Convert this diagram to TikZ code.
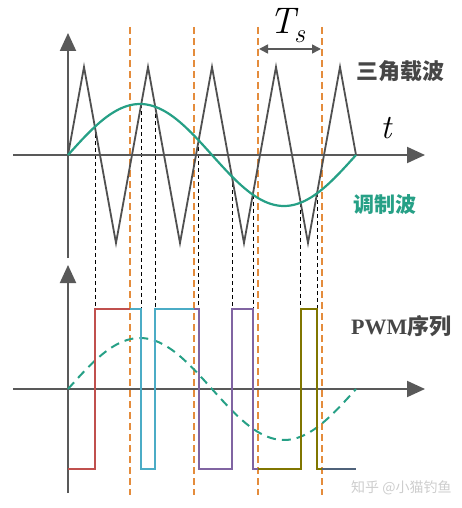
\documentclass[tikz,border=0pt]{standalone}
\usepackage{fontspec}
\newfontfamily\cjk{Noto Sans CJK SC}
\newfontfamily\pwmserif{Liberation Serif}
\usetikzlibrary{arrows.meta}
\definecolor{axisgray}{RGB}{89,89,89}
\definecolor{wavegray}{RGB}{80,80,80}
\definecolor{lblgray}{RGB}{70,70,70}
\definecolor{teal}{RGB}{38,160,134}
\definecolor{orng}{RGB}{228,140,60}
\definecolor{pwmred}{RGB}{192,80,77}
\definecolor{pwmcyan}{RGB}{75,172,198}
\definecolor{pwmpurple}{RGB}{128,100,162}
\definecolor{pwmolive}{RGB}{128,118,0}
\definecolor{pwmblue}{RGB}{79,98,122}
\definecolor{wm}{RGB}{205,205,205}
\tikzset{
  axis/.style={draw=axisgray, line width=2pt, -{Triangle[length=18pt,width=16pt]}},
  carrier/.style={draw=wavegray, line width=1.8pt, line join=miter},
  modwave/.style={draw=teal, line width=2.2pt},
  period/.style={draw=orng, line width=1.3pt, dash pattern=on 7pt off 4pt},
  proj/.style={draw=black, line width=0.6pt, dash pattern=on 4pt off 3pt},
  pwm/.style={line width=1.8pt, line join=miter},
  lbl/.style={inner sep=0pt, anchor=center}
}
\begin{document}
\begin{tikzpicture}[x=1pt,y=-1pt]
\useasboundingbox (0,0) rectangle (461,508);
% period lines
\foreach \px in {130,194,258,322} {
  \draw[period] (\px,27) -- (\px,495);
}
% projection lines from intersections
\foreach \ix in {94.9,141.3,155.2,198.7,231.9,252.8,300.7,317.0} {
  \draw[proj] (\ix,{155-51*sin((\ix-68)*1.25)}) -- (\ix,309);
}
% top axes
\coordinate (topbot) at (68,258);
\coordinate (toptop) at (68,33);
\coordinate (topleft) at (13,155);
\coordinate (topright) at (425,155);
\draw[axis] (topbot) -- (toptop);
\draw[axis] (topleft) -- (topright);
% carrier triangle
\draw[carrier] (68,155) -- (84,67) -- (116,243) -- (148,67) -- (180,243) -- (212,67)
  -- (244,243) -- (276,67) -- (308,243) -- (340,67) -- (356,155);
% modulating sine
\draw[modwave] plot[domain=0:288, samples=120, smooth] ({68+\x},{155-51*sin(\x*1.25)});
% bottom axes
\coordinate (botbot) at (68,493);
\coordinate (bottop) at (68,265);
\coordinate (botleft) at (13,389);
\coordinate (botright) at (425,389);
\draw[axis] (botbot) -- (bottop);
\draw[axis] (botleft) -- (botright);
% dashed sine in bottom
\draw[draw=teal, line width=2pt, dash pattern=on 9pt off 6pt]
  plot[domain=0:288, samples=120, smooth] ({68+\x},{389-51*sin(\x*1.25)});
% PWM
\draw[pwm, draw=pwmred] (68,469) -- (94.9,469) -- (94.9,309) -- (130,309);
\draw[pwm, draw=pwmcyan] (130,309) -- (141.3,309) -- (141.3,469) -- (155.2,469) -- (155.2,309) -- (194,309);
\draw[pwm, draw=pwmpurple] (194,309) -- (198.7,309) -- (198.7,469) -- (231.9,469) -- (231.9,309) -- (252.8,309) -- (252.8,469) -- (258,469);
\draw[pwm, draw=pwmolive] (258,469) -- (300.7,469) -- (300.7,309) -- (317,309) -- (317,469) -- (322,469);
\draw[pwm, draw=pwmblue] (322,469) -- (356,469);
% Ts arrow
\coordinate (tsl) at (259,49);
\coordinate (tsr) at (321,49);
\draw[draw=axisgray, line width=1.6pt, {Triangle[length=9pt,width=9pt]}-{Triangle[length=9pt,width=9pt]}] (tsl) -- (tsr);
% labels
\node[lbl] (ts) at (287,26) {\fontsize{37}{37}\selectfont\itshape T\kern-1pt\raisebox{-9pt}{\fontsize{27}{27}\selectfont s}};
\node[lbl] (tlabel) at (386,128) {\fontsize{34}{34}\selectfont\itshape t};
\node[lbl, text=lblgray, anchor=west] (carrierlbl) at (356,71) {\cjk\bfseries\fontsize{22}{22}\selectfont 三角载波};
\node[lbl, text=teal, anchor=west] (modlbl) at (353,205) {\cjk\bfseries\fontsize{21}{21}\selectfont 调制波};
\node[lbl, text=lblgray, anchor=west] (pwmlbl) at (351,326) {\pwmserif\bfseries\fontsize{22}{22}\selectfont PWM\cjk 序列};
\node[lbl, text=wm, anchor=west] (wmark) at (351,488) {\cjk\fontsize{14}{14}\selectfont 知乎 @小猫钓鱼};
\end{tikzpicture}
\end{document}
